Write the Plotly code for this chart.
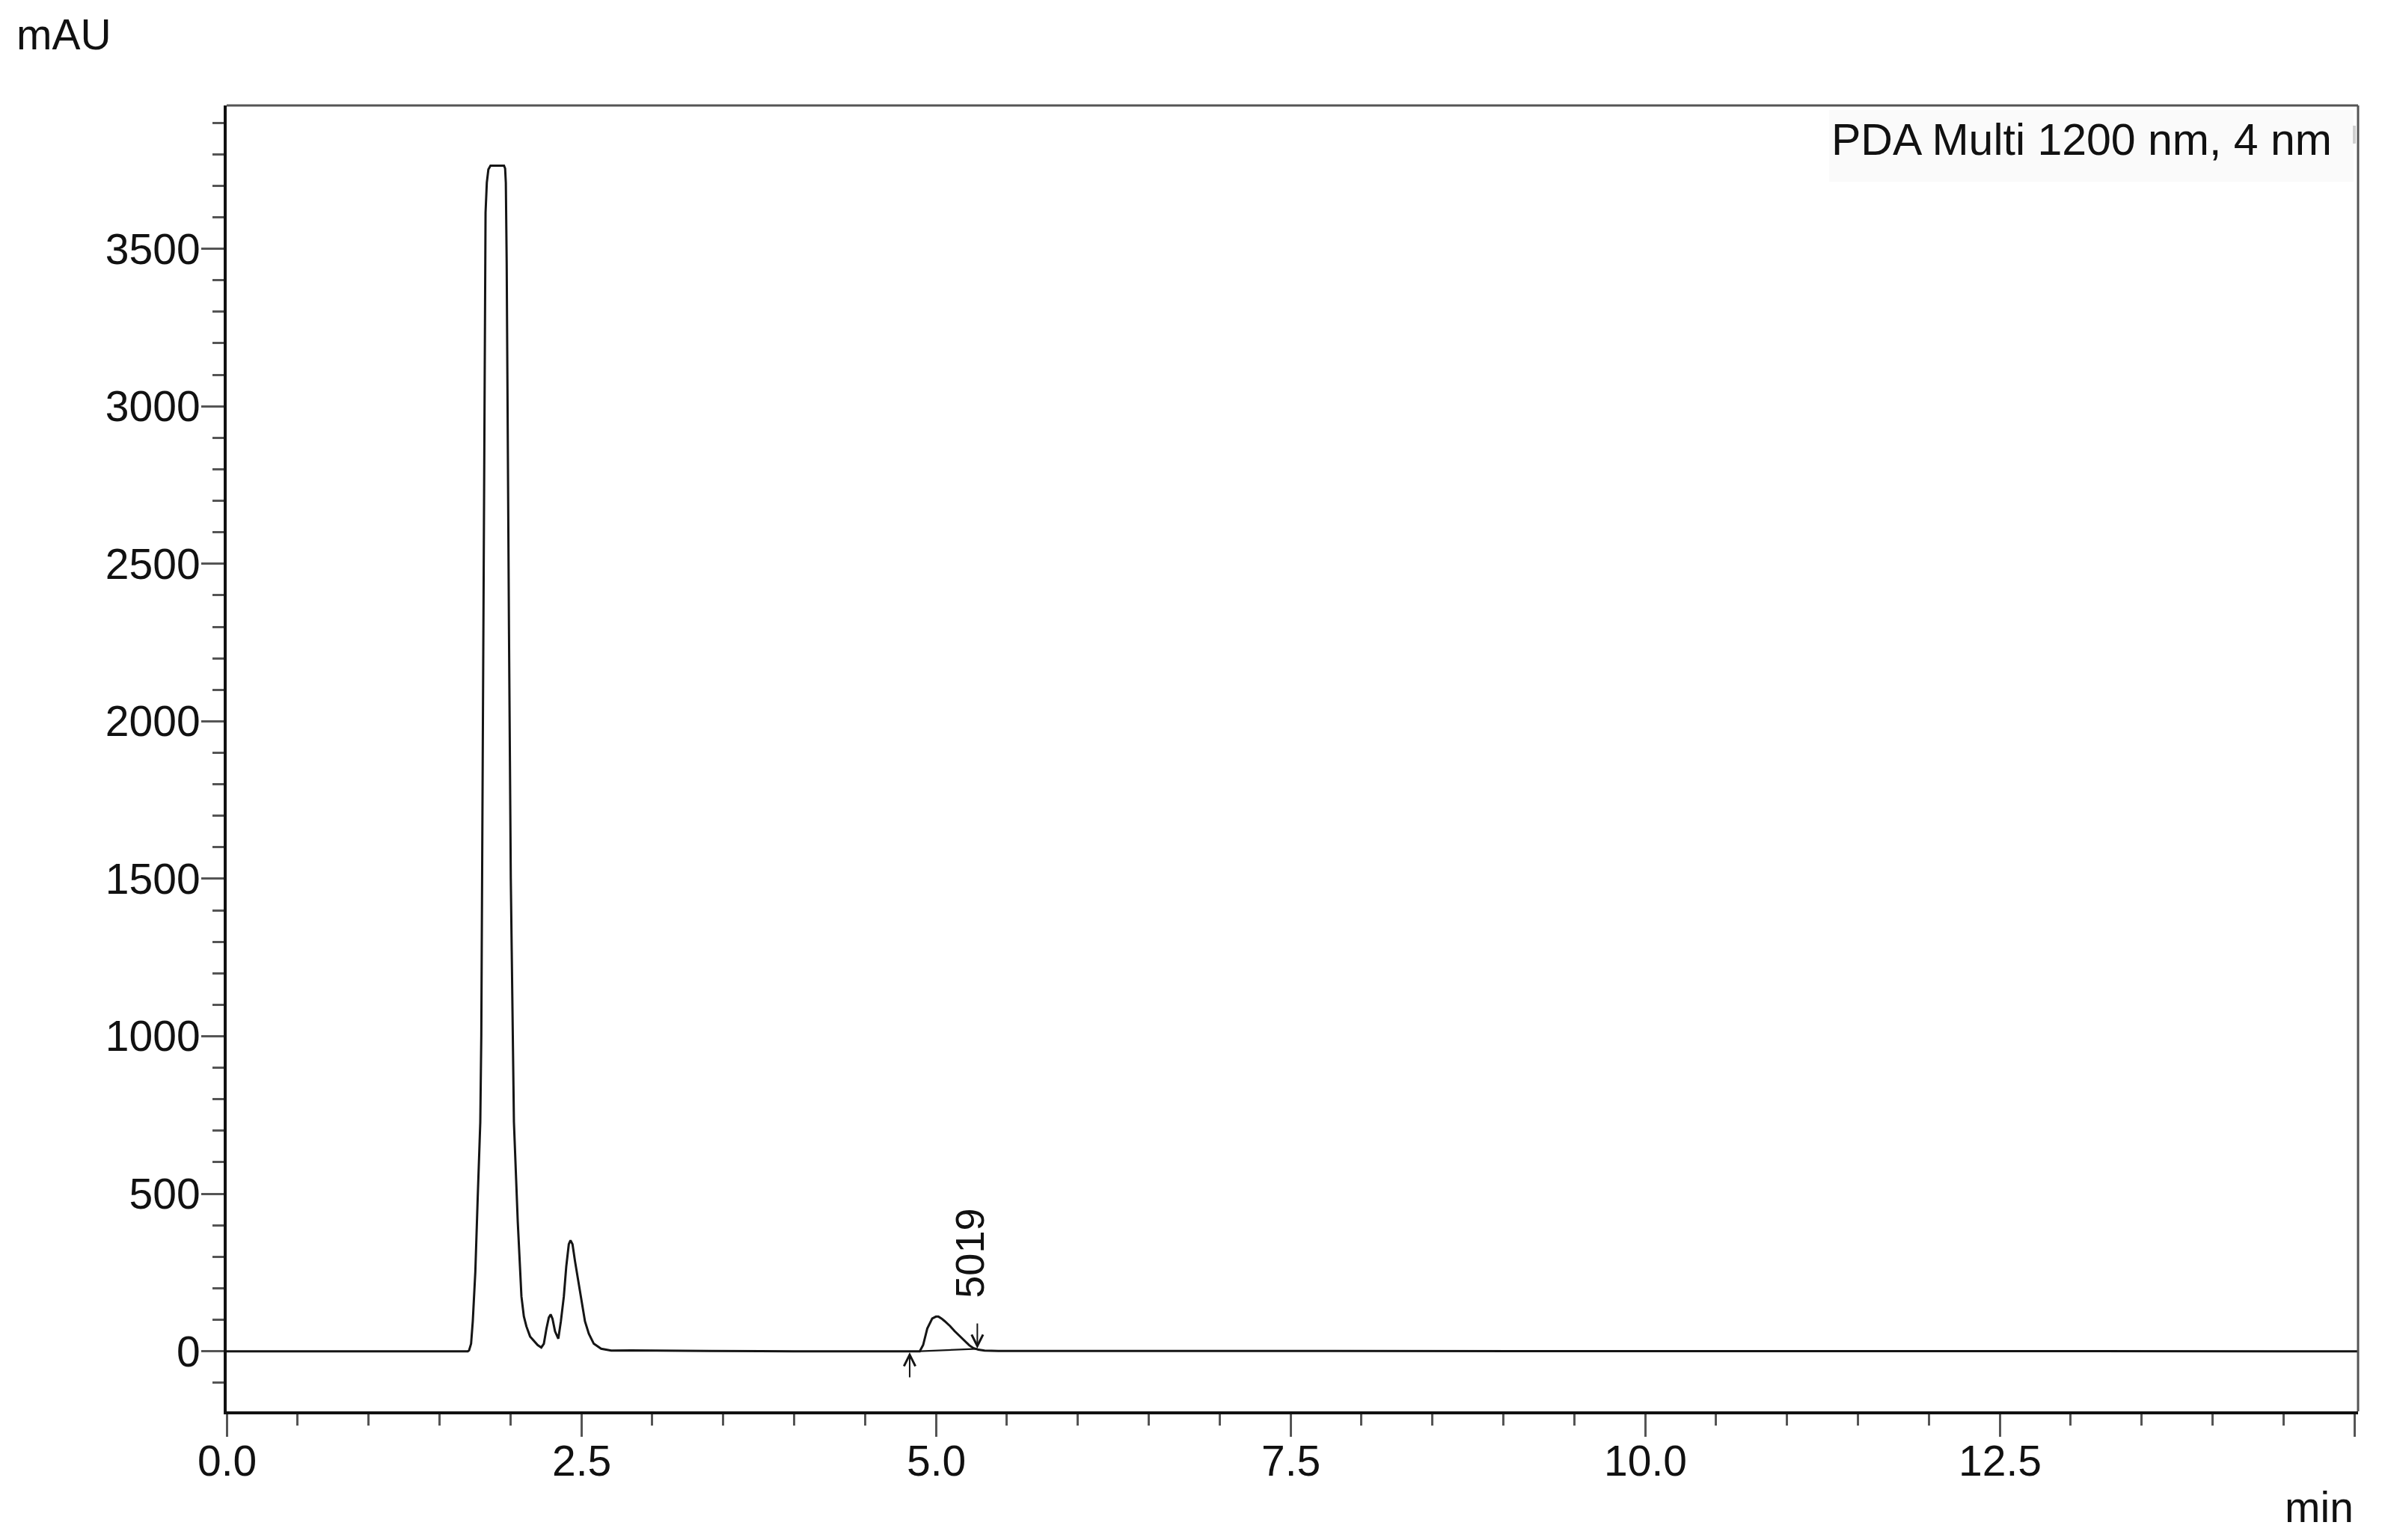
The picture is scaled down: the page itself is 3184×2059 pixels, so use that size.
import plotly.graph_objects as go

# ---- data ----
time_min = [0.0, 1.70, 1.709, 1.723, 1.735, 1.753, 1.770, 1.788, 1.795, 1.803, 1.810, 1.817, 1.821,
            1.825, 1.834, 1.845, 1.860, 1.955, 1.963, 1.968, 1.974, 1.978, 1.990, 2.003, 2.015,
            2.025, 2.052, 2.078, 2.095, 2.113, 2.139, 2.166, 2.192, 2.218, 2.236, 2.254, 2.271,
            2.284, 2.297, 2.315, 2.338, 2.356, 2.377, 2.394, 2.412, 2.424, 2.438, 2.456, 2.474,
            2.500, 2.526, 2.553, 2.588, 2.640, 2.711, 2.85, 3.00, 3.40, 4.00,
            4.886, 4.910, 4.939, 4.974, 5.000, 5.018, 5.040, 5.061, 5.100, 5.132, 5.170, 5.202,
            5.235, 5.264, 5.300, 5.343, 5.44, 15.03]
signal_mau = [0, 0, 3, 24, 95, 253, 491, 728, 1000, 1800, 2500, 3100, 3456,
              3615, 3710, 3752, 3764, 3764, 3755, 3710, 3456, 3100, 2300, 1500, 1000,
              728, 412, 174, 111, 79, 47, 32, 20, 12, 24, 71, 107,
              117, 103, 63, 40, 95, 174, 269, 340, 352, 340, 285, 237,
              158, 95, 56, 24, 8, 2, 3, 2, 1, 0,
              0, 20, 72, 104, 110, 110, 104, 96, 80, 64, 47, 32,
              19, 10, 5, 2, 1, 0]

peak_labels = ["5019"]
peak_label_time = [5.24]
peak_label_height = [310]
peak_start_time = [4.815]
peak_end_time = [5.292]
integration_base_time = [4.886, 5.292]
integration_base_mau = [0, 8]

x_tickvals = [0, 2.5, 5.0, 7.5, 10.0, 12.5, 15.0]
x_ticktext = ["0.0", "2.5", "5.0", "7.5", "10.0", "12.5", ""]
y_tickvals = [0, 500, 1000, 1500, 2000, 2500, 3000, 3500]
y_ticktext = ["0", "500", "1000", "1500", "2000", "2500", "3000", "3500"]

x_range = [0, 15.026]
y_range = [-190.7, 3955]

FONT = "Liberation Sans, Arial, sans-serif"
OFF = 8  # page body margin
W, H = 3184 - 2 * OFF, 2059 - 2 * OFF
# plot area in page pixels: left 303, top 141, right 3152, bottom 1887
ML, MT = 303 - OFF, 141 - OFF
MR = W - (3152 - OFF)
MB = H - (1887 - OFF)
PW, PH = W - ML - MR, H - MT - MB


def px_x(px):
    return (px - OFF - ML) / PW


def px_y(py):
    return (H - MB - (py - OFF)) / PH


fig = go.Figure()

fig.add_trace(go.Scatter(
    x=time_min, y=signal_mau, mode="lines",
    line=dict(color="#151515", width=3), showlegend=False, hoverinfo="skip"))

fig.add_trace(go.Scatter(
    x=integration_base_time, y=integration_base_mau, mode="lines",
    line=dict(color="#151515", width=2.2), showlegend=False, hoverinfo="skip"))

annotations = []
for lab, t, h in zip(peak_labels, peak_label_time, peak_label_height):
    annotations.append(dict(x=t, y=h, xref="x", yref="y", text=lab, showarrow=False,
                            textangle=-90, xanchor="center", yanchor="middle",
                            font=dict(family=FONT, size=54, color="#111")))
for t in peak_start_time:
    annotations.append(dict(x=t, y=-3, xref="x", yref="y", ax=t, ay=-86, axref="x", ayref="y",
                            text="", showarrow=True, arrowhead=5, arrowsize=1.5,
                            arrowwidth=2, arrowcolor="#151515"))
for t in peak_end_time:
    annotations.append(dict(x=t, y=9, xref="x", yref="y", ax=t, ay=92, axref="x", ayref="y",
                            text="", showarrow=True, arrowhead=5, arrowsize=1.5,
                            arrowwidth=2, arrowcolor="#151515"))

# x tick labels (placed as text below the axis ticks)
for v, txt in zip(x_tickvals, x_ticktext):
    if txt:
        annotations.append(dict(x=v, y=0, xref="x", yref="paper", text=txt, showarrow=False,
                                xanchor="center", yanchor="top", yshift=-32,
                                font=dict(family=FONT, size=57, color="#111")))

annotations += [
    dict(x=px_x(20), y=px_y(46), xref="paper", yref="paper", text="mAU", showarrow=False,
         xanchor="left", yanchor="middle", font=dict(family=FONT, size=57, color="#111")),
    dict(x=px_x(3148), y=px_y(2015), xref="paper", yref="paper", text="min", showarrow=False,
         xanchor="right", yanchor="middle", font=dict(family=FONT, size=57, color="#111")),
    dict(x=px_x(3119), y=px_y(187), xref="paper", yref="paper",
         text="PDA Multi 1200 nm, 4 nm", showarrow=False,
         xanchor="right", yanchor="middle", font=dict(family=FONT, size=59, color="#111")),
]

shapes = [
    dict(type="rect", xref="paper", yref="paper", x0=px_x(2445), x1=px_x(3146),
         y0=px_y(243), y1=px_y(147), fillcolor="#fafafa", line=dict(width=0), layer="below"),
    dict(type="rect", xref="paper", yref="paper", x0=px_x(3145), x1=px_x(3149),
         y0=px_y(192), y1=px_y(168), fillcolor="#cfcfcf", line=dict(width=0), layer="below"),
    dict(type="line", xref="paper", yref="paper", x0=0, x1=1, y0=1, y1=1,
         line=dict(color="#555", width=3)),
    dict(type="line", xref="paper", yref="paper", x0=1, x1=1, y0=0, y1=1,
         line=dict(color="#555", width=3)),
]

fig.update_layout(
    width=W, height=H,
    margin=dict(l=ML, r=MR, t=MT, b=MB, pad=0),
    paper_bgcolor="white", plot_bgcolor="white",
    font=dict(family=FONT, size=57, color="#111"),
    annotations=annotations, shapes=shapes, showlegend=False,
    xaxis=dict(range=x_range, tickvals=x_tickvals, showticklabels=False,
               showgrid=False, zeroline=False, showline=True, linecolor="#111", linewidth=4,
               ticks="outside", ticklen=30, tickwidth=3, tickcolor="#555",
               minor=dict(dtick=0.5, tick0=0, ticks="outside", ticklen=15, tickwidth=3,
                          tickcolor="#555", showgrid=False)),
    yaxis=dict(range=y_range, tickvals=y_tickvals, ticktext=y_ticktext,
               showgrid=False, zeroline=False, showline=True, linecolor="#111", linewidth=4,
               ticks="outside", ticklen=30, tickwidth=3, tickcolor="#555",
               ticklabelstandoff=-10,
               tickfont=dict(family=FONT, size=57, color="#111"),
               minor=dict(dtick=100, tick0=0, ticks="outside", ticklen=15, tickwidth=3,
                          tickcolor="#555", showgrid=False)),
)

fig.write_html("out.html")
